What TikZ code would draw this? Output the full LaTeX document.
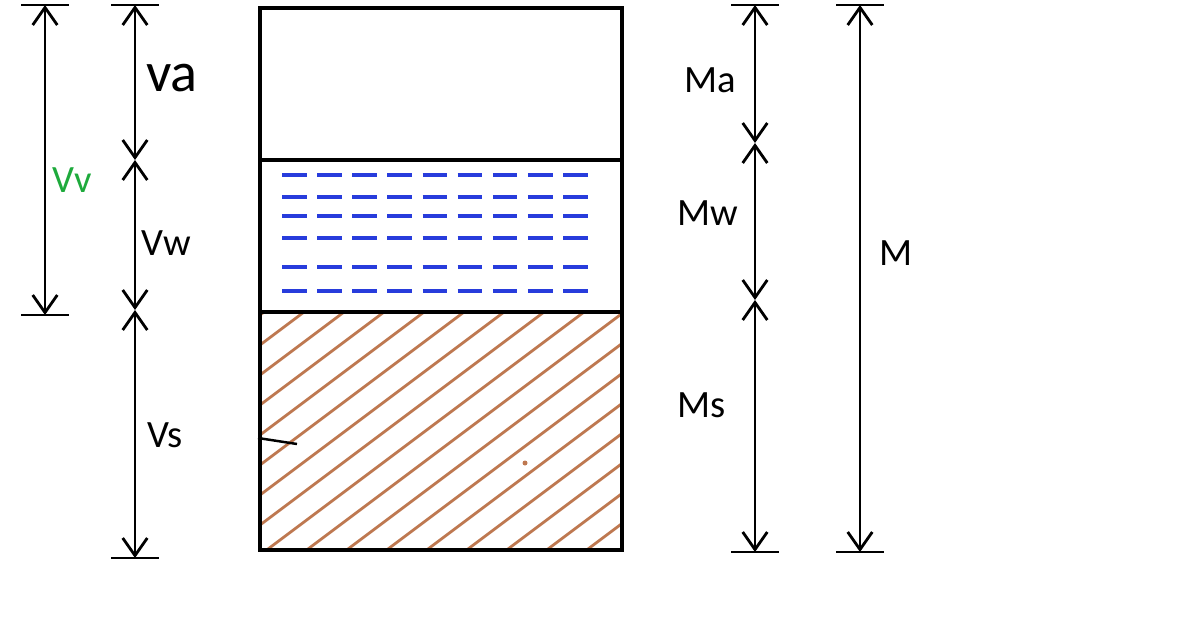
\documentclass[tikz,border=0pt]{standalone}
\usepackage{fontspec}
\setmainfont{Carlito}
\usetikzlibrary{arrows.meta}
\definecolor{soil}{RGB}{190,120,80}
\definecolor{wat}{RGB}{40,60,220}
\definecolor{vvgreen}{RGB}{30,170,60}
\tikzset{
  dim/.style={line width=1.6pt,{Straight Barb[length=10pt,width=14pt]}-{Straight Barb[length=10pt,width=14pt]}},
  tick/.style={line width=1.6pt},
  lbl/.style={font=\fontsize{22}{26}\selectfont},
  wline/.style={wat,line width=2pt,dash pattern=on 14pt off 6pt},
}
\begin{document}
\begin{tikzpicture}[x=0.02cm,y=-0.02cm]
\useasboundingbox (0,0) rectangle (1200,630);
% hatching
\begin{scope}
\clip (260,312) rectangle (622,550);
\foreach \i in {-10,...,30}{
  \draw[soil,line width=1.6pt] (200+\i*40,600) -- ++(400,-300);
}
\end{scope}
% water
\foreach \y in {175,197,216,238,267,291}{
  \draw[wline] (282,\y) -- (598,\y);
}
% box
\draw[line width=2.2pt] (260,8) rectangle (622,550);
\draw[line width=2.2pt] (260,160) -- (622,160);
\draw[line width=2.2pt] (260,312) -- (622,312);
\draw[line width=1.4pt] (258,438) -- (297,444);
\fill[soil] (525,463) circle (2.5);
% coordinates
\coordinate (vvt) at (45,5); \coordinate (vvb) at (45,315);
\coordinate (vt) at (135,5); \coordinate (v1) at (135,160); \coordinate (v2) at (135,310); \coordinate (vb) at (135,558);
\coordinate (mt) at (755,5); \coordinate (m1) at (755,143); \coordinate (m2) at (755,300); \coordinate (mb) at (755,552);
\coordinate (Mt) at (860,5); \coordinate (Mb) at (860,552);
\draw[dim] (vvt) -- (vvb);
\draw[dim] (vt) -- (v1); \draw[dim] (v1) -- (v2); \draw[dim] (v2) -- (vb);
\draw[dim] (mt) -- (m1); \draw[dim] (m1) -- (m2); \draw[dim] (m2) -- (mb);
\draw[dim] (Mt) -- (Mb);
\foreach \c in {vvt,vvb,vt,vb,mt,mb,Mt,Mb}{
  \draw[tick] ([xshift=-0.48cm]\c) -- ([xshift=0.48cm]\c);
}
% labels
\node[font=\fontsize{32}{36}\selectfont] (va) at (172,78) {va};
\node[lbl,text=vvgreen] (vv) at (72,180) {Vv};
\node[lbl] (vw) at (166,243) {Vw};
\node[lbl] (vs) at (165,435) {Vs};
\node[lbl] (ma) at (710,80) {Ma};
\node[lbl] (mw) at (708,213) {Mw};
\node[lbl] (ms) at (702,405) {Ms};
\node[lbl] (m) at (896,253) {M};
\end{tikzpicture}
\end{document}
